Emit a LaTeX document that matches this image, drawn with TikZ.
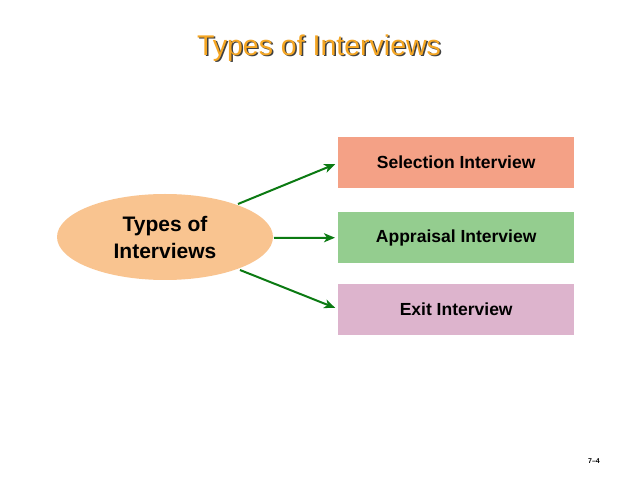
\documentclass[tikz,border=0pt]{standalone}
\usepackage{fontspec}
\setmainfont{Liberation Sans}
\usetikzlibrary{arrows.meta,shapes.geometric}
\definecolor{ttl}{HTML}{F5A623}
\definecolor{ell}{HTML}{F9C490}
\definecolor{b1}{HTML}{F4A186}
\definecolor{b2}{HTML}{94CD8F}
\definecolor{b3}{HTML}{DDB4CD}
\definecolor{arr}{HTML}{0B7A12}
\begin{document}
\begin{tikzpicture}[x=1pt,y=-1pt,
  box/.style={draw=none,minimum width=236pt,minimum height=51pt,font=\bfseries\fontsize{17.5}{21}\selectfont,anchor=north west,inner sep=0pt},
  con/.style={arr,line width=2pt,-{Stealth[length=11pt,width=9pt,inset=3pt]},shorten >=3pt}]
\useasboundingbox (0,0) rectangle (638,478);
\fill[white] (0,0) rectangle (638,478);
\node[text=black!75,font=\fontsize{28.5}{32}\selectfont] at (320.5,49.5) {Types of Interviews};
\node (title) [text=ttl,font=\fontsize{28.5}{32}\selectfont] at (319,48) {Types of Interviews};
\node (e) [ellipse,fill=ell,minimum width=216pt,minimum height=86pt,inner sep=0pt,align=center,
  font=\bfseries\fontsize{21}{27}\selectfont] at (165,237) {Types of\\Interviews};
\node (s) [box,fill=b1] at (338,137) {Selection Interview};
\node (a) [box,fill=b2] at (338,212) {Appraisal Interview};
\node (x) [box,fill=b3] at (338,284) {Exit Interview};
\coordinate (e1) at (238,204);
\coordinate (e2) at (274,238);
\coordinate (e3) at (240,270);
\coordinate (t1) at (338,163);
\coordinate (t3) at (338,309);
\draw[con] (e1) -- (t1);
\draw[con] (e2) -- (a.west);
\draw[con] (e3) -- (t3);
\node (pg) [font=\bfseries\fontsize{7}{8}\selectfont] at (594,461) {7–4};
\end{tikzpicture}
\end{document}
